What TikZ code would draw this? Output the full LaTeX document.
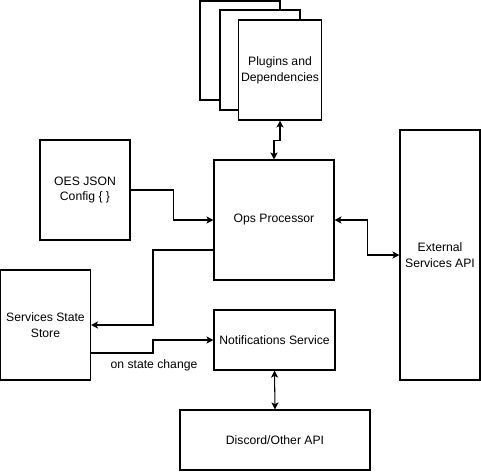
\documentclass[tikz,border=0pt]{standalone}
\usepackage{fontspec}
\setmainfont{Liberation Sans}
\usetikzlibrary{positioning,arrows.meta}

\tikzstyle{block} = [rectangle, draw, fill=white, text centered, align=center, inner sep=2pt, line width=0.9pt]

\begin{document}
\begin{tikzpicture}[x=0.03cm, y=-0.03cm, auto, >={Stealth[length=6pt,width=6pt,inset=1.5pt]}, font=\fontsize{10.4}{13.5}\selectfont]
	\tikzstyle{conn}=[line width=0.9pt]
	\tikzstyle{annot}=[text centered]
  \useasboundingbox (0,0) rectangle (481,471);
  % plugin stack
  \node[block, minimum width=80*0.03cm, minimum height=99*0.03cm] (plug2) at (240,50.5) {};
  \node[block, minimum width=80*0.03cm, minimum height=100*0.03cm] (plug1) at (260,60) {};
  \node[block, minimum width=80*0.03cm, minimum height=100*0.03cm] (plug) at (280,70) {Plugins and\\Dependencies};
  \node[block, minimum width=90*0.03cm, minimum height=100*0.03cm] (oes) at (85,190) {OES JSON\\Config \{ \}};
  \node[block, minimum width=120*0.03cm, minimum height=120*0.03cm] (ops) at (274,220) {Ops Processor};
  \node[block, minimum width=80*0.03cm, minimum height=250*0.03cm] (ext) at (440,255) {External\\Services API};
  \node[block, minimum width=90*0.03cm, minimum height=110*0.03cm] (store) at (45.5,325) {Services State\\Store};
  \node[block, minimum width=121*0.03cm, minimum height=60*0.03cm] (notif) at (274.5,340) {Notifications Service};
  \node[block, minimum width=190*0.03cm, minimum height=60*0.03cm] (discord) at (275,440) {Discord/Other API};
  \coordinate (opsout) at (214,250);
  \coordinate (storeout) at (91,353);
  % connectors
\draw[conn,<->] (plug.south) -- ++(0,20) -| (ops.north);
\draw[conn,->] (oes.east) -- ++(43,0) |- (ops.west);
\draw[conn,<->] (ops.east) -- ++(33,0) |- (ext.west);
\draw[conn,->] (opsout) -- ++(-61,0) |- (store.east);
\draw[conn,->] (storeout) -- ++(62,0) |- (notif.west);
\node[annot] (statelbl) at (154,365) {on state change};
\draw[conn,<->] (notif.south) -- (discord.north);
\end{tikzpicture}
\end{document}
